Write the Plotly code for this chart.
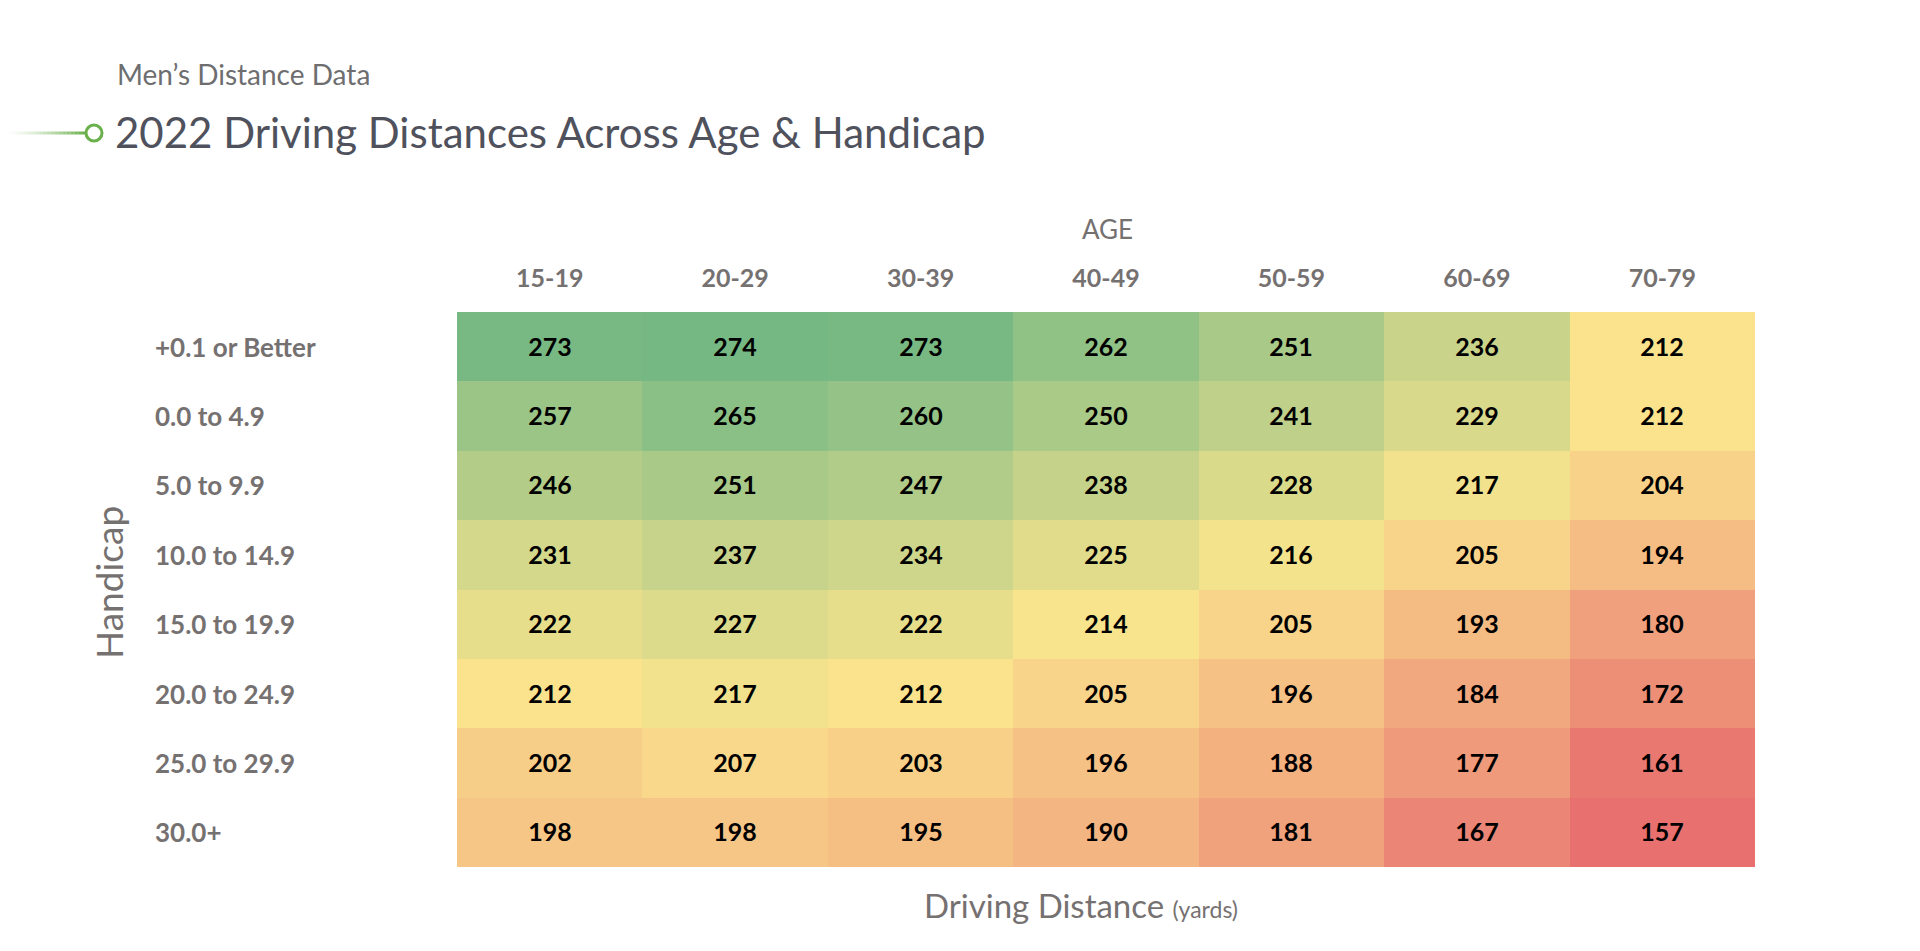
import plotly.graph_objects as go

ages = ["15-19", "20-29", "30-39", "40-49", "50-59", "60-69", "70-79"]
handicaps = ["+0.1 or Better", "0.0 to 4.9", "5.0 to 9.9", "10.0 to 14.9",
             "15.0 to 19.9", "20.0 to 24.9", "25.0 to 29.9", "30.0+"]
row_plus01 = [273, 274, 273, 262, 251, 236, 212]
row_0_49 = [257, 265, 260, 250, 241, 229, 212]
row_5_99 = [246, 251, 247, 238, 228, 217, 204]
row_10_149 = [231, 237, 234, 225, 216, 205, 194]
row_15_199 = [222, 227, 222, 214, 205, 193, 180]
row_20_249 = [212, 217, 212, 205, 196, 184, 172]
row_25_299 = [202, 207, 203, 196, 188, 177, 161]
row_30p = [198, 198, 195, 190, 181, 167, 157]
z = [row_plus01, row_0_49, row_5_99, row_10_149, row_15_199, row_20_249, row_25_299, row_30p]

W, H = 1920, 951
L, R, T, B = 449, 1747, 304, 859
GREY = "#767171"
LBL_FONT = "Lato"

vmin, vmax, vmid = 157, 274, 213
mid = (vmid - vmin) / (vmax - vmin)
colorscale = [[0, "#E8706F"], [mid, "#FBE58E"], [1, "#76B883"]]

fig = go.Figure(go.Heatmap(
    z=z, x=ages, y=handicaps, zmin=vmin, zmax=vmax,
    colorscale=colorscale, showscale=False,
    texttemplate="%{z}",
    textfont=dict(family=LBL_FONT, size=25, color="black", weight="bold"),
    hoverinfo="skip",
))

fig.update_layout(
    width=W, height=H,
    margin=dict(l=L, r=W - R, t=T, b=H - B, pad=0),
    paper_bgcolor="white", plot_bgcolor="white",
    xaxis=dict(side="top", showgrid=False, zeroline=False, showline=False,
               ticks="outside", ticklen=14, tickcolor="rgba(0,0,0,0)",
               tickfont=dict(family=LBL_FONT, size=25, color=GREY, weight="bold")),
    yaxis=dict(autorange="reversed", showgrid=False, zeroline=False,
               showline=False, showticklabels=False),
    showlegend=False,
)

# convert full-figure pixel positions to plot-area paper coordinates
def px(x):
    return (x - L) / (R - L)

def py(y):
    return (B - y) / (B - T)

for h in handicaps:
    fig.add_annotation(x=px(145), xref="paper", y=h, yref="y", text=h,
                       showarrow=False, xanchor="left", yanchor="middle",
                       font=dict(family=LBL_FONT, size=26, color=GREY, weight="bold"))

fig.add_annotation(x=px(1099), y=py(221), xref="paper", yref="paper", text="AGE",
                   showarrow=False, xanchor="center", yanchor="middle",
                   font=dict(family=LBL_FONT, size=26, color=GREY))
fig.add_annotation(x=px(100), y=py(575), xref="paper", yref="paper", text="Handicap",
                   textangle=-90, showarrow=False, xanchor="center", yanchor="middle",
                   font=dict(family=LBL_FONT, size=37, color=GREY))
fig.add_annotation(x=px(1073), y=py(897), xref="paper", yref="paper",
                   text="Driving Distance <span style='font-size:23px'>(yards)</span>",
                   showarrow=False, xanchor="center", yanchor="middle",
                   font=dict(family=LBL_FONT, size=33, color=GREY))

fig.add_annotation(x=px(107), y=py(66), xref="paper", yref="paper",
                   text="Men’s Distance Data", showarrow=False,
                   xanchor="left", yanchor="middle",
                   font=dict(family=LBL_FONT, size=28, color="#6E6E70"))
fig.add_annotation(x=px(105), y=py(124), xref="paper", yref="paper",
                   text="2022 Driving Distances Across Age & Handicap", showarrow=False,
                   xanchor="left", yanchor="middle",
                   font=dict(family=LBL_FONT, size=42, color="#4F515C"))

# decorative green line with fading tail
segs = 20
x0, x1, yl = 0, 78, py(125)
for i in range(segs):
    xa = x0 + (x1 - x0) * i / segs
    xb = x0 + (x1 - x0) * (i + 1) / segs
    fig.add_shape(type="line", xref="paper", yref="paper",
                  x0=px(xa), x1=px(xb), y0=yl, y1=yl,
                  line=dict(color="#6AB04C", width=3), opacity=((i + 1) / segs) ** 1.5)
fig.add_shape(type="circle", xref="paper", yref="paper",
              x0=px(78), x1=px(94), y0=py(133), y1=py(117),
              line=dict(color="#6AB04C", width=3), fillcolor="white")

fig.write_html("out.html")
